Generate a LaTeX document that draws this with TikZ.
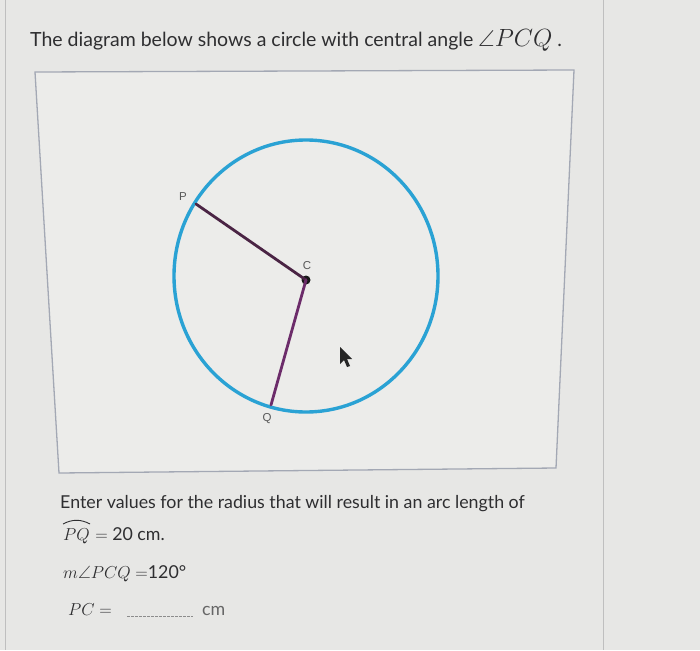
\documentclass[tikz,border=0pt]{standalone}
\usepackage{amsmath,amssymb}
\usepackage{fontspec}
\setmainfont{Lato}
\newfontfamily\labelfont{Liberation Sans}
\definecolor{paper}{HTML}{E7E7E5}
\definecolor{boxfill}{HTML}{ECECEA}
\definecolor{boxline}{HTML}{A3A8B4}
\definecolor{ringblue}{HTML}{2AA2D4}
\definecolor{radiusP}{HTML}{4A2444}
\definecolor{radiusQ}{HTML}{6C2C6A}
\definecolor{inktext}{HTML}{2E2E30}

\begin{document}
\begin{tikzpicture}[x=1pt, y=-1pt,
	centre/.style={circle, fill=black!90, inner sep=0pt, minimum size=9pt},
	ptlabel/.style={text=black!65, font=\labelfont\fontsize{11.5}{12}\selectfont, inner sep=0pt},
	radius line/.style={line width=2.8pt, line cap=round},
	bodytext/.style={anchor=base west, inner sep=0pt, text=inktext, font=\fontsize{17.8}{20}\selectfont}]
						\useasboundingbox (0,0) rectangle (700,650);
						\fill[paper] (0,0) rectangle (700,650);
						\draw[black!25, line width=1pt] (5,0) -- (5,650);
						\draw[black!25, line width=1pt] (603,0) -- (603,650);
						% the question
						\node[anchor=base west, inner sep=0pt, text=inktext, font=\fontsize{19.5}{22}\selectfont] (title) at (30,47) {The diagram below shows a circle with central angle {\fontsize{23}{24}\selectfont$\angle PCQ$} .};
						% the frame
						\coordinate (boxNW) at (35,72);
						\coordinate (boxNE) at (574,70);
						\coordinate (boxSE) at (556,468);
						\coordinate (boxSW) at (59,473);
						\draw[boxline, fill=boxfill, line width=1.3pt] (boxNW) -- (boxNE) -- (boxSE) -- (boxSW) -- cycle;
						% the circle
						\coordinate (ring) at (306,276);
						\draw[ringblue, line width=3.4pt] (ring) ellipse[x radius=132, y radius=136];
						\coordinate (nodeP) at (196,204);
						\coordinate (nodeQ) at (271,405);
						\node[centre] (nodeC) at (306,280) {};
						\draw[radius line, radiusP] (nodeP) -- (nodeC.center);
						\draw[radius line, radiusQ] (nodeQ) -- (nodeC.center);
						\node[ptlabel] (labelP) at (183,197) {P};
						\node[ptlabel] (labelC) at (307,266) {C};
						\node[ptlabel] (labelQ) at (267,419) {Q};
						% pointer
						\fill[black!85] (340,347) -- (340,364) -- (344,360) -- (347,367) -- (350,366) -- (347,359) -- (352,359) -- cycle;
						% the task
						\node[bodytext] (task) at (60,508) {Enter values for the radius that will result in an arc length of};
						\node[bodytext] (arcPQ) at (63,540) {$PQ$};
						\draw[inktext, line width=0.9pt] ([yshift=4pt]arcPQ.north west) to[bend left=28] ([yshift=4pt]arcPQ.north east);
						\node[bodytext, anchor=base west] (arcval) at ([xshift=5pt]arcPQ.base east) {$=$ 20 cm.};
						\node[bodytext] (angleline) at (63,578) {$m\angle PCQ$ $=$120°};
						\node[bodytext] (pcline) at (68,615) {$PC$ $=$};
						\coordinate (blankL) at (127,616);
						\coordinate (blankR) at (193,616);
						\draw[black!45, dashed, dash pattern=on 3pt off 1pt] (blankL) -- (blankR);
						\node[bodytext, text=black!60] (unit) at (202,615) {cm};
					\end{tikzpicture}
\end{document}
